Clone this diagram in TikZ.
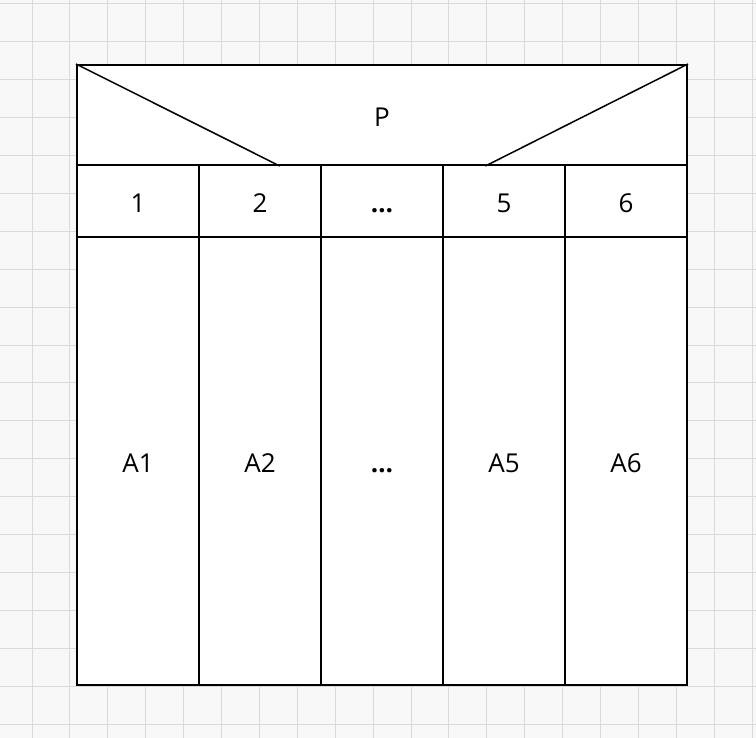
\documentclass[tikz,border=0pt]{standalone}
\usepackage{fontspec}
\setmainfont{Open Sans}
\usetikzlibrary{calc}
\definecolor{bgc}{HTML}{F9F8F9}
\definecolor{gridc}{HTML}{DADADA}
\tikzset{
  cell/.style={draw=black, line width=2pt, fill=white, inner sep=0pt, minimum width=122pt,
    font=\fontsize{26}{30}\selectfont, text height=22.5pt, text depth=0pt},
  headcell/.style={cell, minimum height=72pt},
  bodycell/.style={cell, minimum height=448pt},
  diag/.style={line width=1.5pt},
}
\newcommand{\dotsbold}{\textbf{…}}
\begin{document}
\begin{tikzpicture}[x=1pt,y=-1pt]
\useasboundingbox (0,0) rectangle (756,738);
\fill[bgc] (0,0) rectangle (756,738);
\foreach \i in {0,...,19} {
  \draw[gridc, line width=1pt] ({32+37.9*\i},0) -- ({32+37.9*\i},738);
  \draw[gridc, line width=1pt] (0,{4+37.9*\i}) -- (756,{4+37.9*\i});
}
\node[cell, minimum width=610pt, minimum height=100pt] (P) at (382,115) {P};
\node[headcell] (h1) at (138,201) {1};
\node[headcell] (h2) at (260,201) {2};
\node[headcell] (h3) at (382,201) {\dotsbold};
\node[headcell] (h5) at (504,201) {5};
\node[headcell] (h6) at (626,201) {6};
\node[bodycell] (b1) at (138,461) {A1};
\node[bodycell] (b2) at (260,461) {A2};
\node[bodycell] (b3) at (382,461) {\dotsbold};
\node[bodycell] (b5) at (504,461) {A5};
\node[bodycell] (b6) at (626,461) {A6};
\coordinate (dl) at ($(P.south west)!0.333!(P.south east)$);
\coordinate (dr) at ($(P.south east)!0.331!(P.south west)$);
\draw[diag] (P.north west) -- (dl);
\draw[diag] (P.north east) -- (dr);
\end{tikzpicture}
\end{document}
